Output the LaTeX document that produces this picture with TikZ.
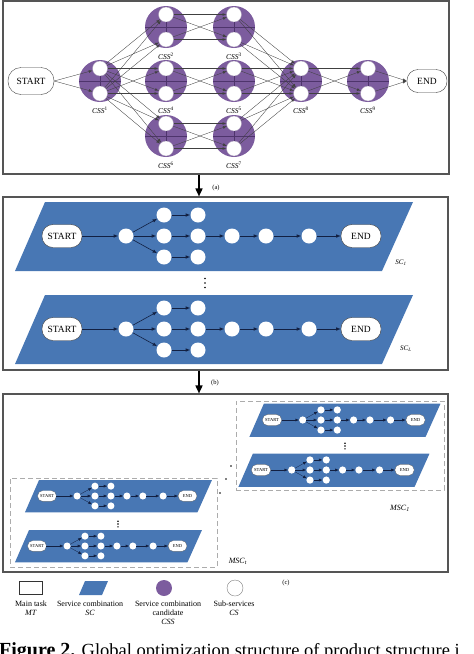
\documentclass[tikz,border=0pt]{standalone}
\usepackage{fontspec}
\setmainfont{Liberation Serif}
\usetikzlibrary{arrows,arrows.meta,positioning,calc}

\definecolor{cssviolet}{RGB}{124,92,158}
\definecolor{cssline}{RGB}{78,52,108}
\definecolor{scblue}{RGB}{72,119,180}
\definecolor{scline}{RGB}{18,32,66}
\definecolor{framegray}{RGB}{85,85,85}

\tikzset{
  panel/.style={draw=framegray, line width=1.1pt, inner sep=0pt},
  mscbox/.style={draw=gray!65, dash pattern=on 5pt off 3pt, line width=0.9pt, inner sep=0pt},
  task/.style={draw=black!75, fill=white, rounded corners=11pt, minimum width=40pt, minimum height=23pt, inner sep=0pt, line width=0.4pt, font=\fontsize{9.5}{11}\selectfont},
  cand/.style={circle, fill=cssviolet, minimum size=42pt, inner sep=0pt},
  sub/.style={circle, fill=white, draw=cssline!50, line width=0.3pt, minimum size=15pt, inner sep=0pt},
  scsub/.style={circle, fill=white, minimum size=15pt, inner sep=0pt},
  edge/.style={draw=black!75, line width=0.35pt, -latex},
  scedge/.style={draw=scline, -latex},
  small/.style={inner sep=0pt, font=\fontsize{7.5}{9}\selectfont},
  legendtext/.style={inner sep=0pt, align=center, font=\fontsize{8}{9}\selectfont},
  phase/.style={draw=black, line width=1.6pt, -{Triangle[length=8pt,width=7pt]}}
}

% one service combination: name, x, y of START, scale
\newcommand{\scrow}[4]{%
\begin{scope}[shift={(#2,#3)}, scale=#4, transform shape, task/.append style={rounded corners=#4*11pt, line width=#4*0.4pt}]
  \fill[scblue] (-17,-34) -- (351,-34) -- (320,35) -- (-47,35) -- cycle;
  \node[task] (#1-start) at (0,0) {START};
  \node[scsub] (#1-a) at (64,0) {};
  \foreach \r/\yy in {t/-21,m/0,b/21}{
    \node[scsub] (#1-b\r) at (102,\yy) {};
    \node[scsub] (#1-c\r) at (136,\yy) {};
  }
  \node[scsub] (#1-d) at (170,0) {};
  \node[scsub] (#1-e) at (204,0) {};
  \node[scsub] (#1-f) at (247,0) {};
  \node[task] (#1-end) at (299,0) {END};
  \begin{scope}[line width=#4*0.6pt]
    \draw[scedge] (#1-start) -- (#1-a);
    \foreach \r in {t,m,b}{
      \draw[scedge] (#1-a) -- (#1-b\r);
      \draw[scedge] (#1-b\r) -- (#1-c\r);
    }
    \draw[scedge] (#1-cm) -- (#1-d);
    \draw[scedge] (#1-d) -- (#1-e);
    \draw[scedge] (#1-e) -- (#1-f);
    \draw[scedge] (#1-f) -- (#1-end);
  \end{scope}
\end{scope}}

% vertical ellipsis drawn as dots: x, y, gap
\newcommand{\dotcol}[3]{%
  \foreach \k in {-1,0,1} \fill (#1,#2+\k*#3) circle (0.8);}

\begin{document}
\begin{tikzpicture}[x=1pt,y=-1pt]
\useasboundingbox (0,0) rectangle (474,654);
\clip (0,0) rectangle (474,654);

% frames
\node[panel, minimum width=446pt, minimum height=173pt] (panel-a) at (226,87.5) {};
\node[panel, minimum width=445pt, minimum height=173pt] (panel-b) at (225.5,283.5) {};
\node[panel, minimum width=445pt, minimum height=178pt] (panel-c) at (225.5,483) {};
\coordinate (arrx) at (199,0);
\draw[phase] (panel-a.south -| arrx) -- (panel-b.north -| arrx);
\draw[phase] (panel-b.south -| arrx) -- (panel-c.north -| arrx);
\node[small, font=\fontsize{6.5}{8}\selectfont] (lab-a) at (216,188) {(a)};
\node[small, font=\fontsize{6.5}{8}\selectfont] (lab-b) at (215,383) {(b)};

% (a) candidates
\node[task, minimum width=46pt, minimum height=27pt, rounded corners=13pt] (a-start) at (31,81) {START};
\node[task] (a-end) at (427,81) {END};
\foreach \i/\x/\y in {1/100/81,2/166/27,3/234/27,4/166/81,5/234/81,6/166/136,7/234/136,8/301/81,9/368/81}{
  \node[cand] (css\i) at (\x,\y) {};
  \node[sub] (css\i-t) at (\x,\y-12.5) {};
  \node[sub] (css\i-b) at (\x,\y+12.5) {};
  \draw[cssline, line width=0.5pt] (css\i-t) -- (css\i-b);
  \draw[cssline, line width=0.5pt] (css\i.west) -- (css\i.east);
  \node[small] (css\i-lab) at (\x,\y+29) {\textit{CSS}\textsuperscript{\i}};
}
\foreach \s/\t in {1/2,1/4,1/6,2/3,4/5,6/7,3/8,5/8,7/8,8/9}
  \foreach \p in {t,b}
    \foreach \q in {t,b}
      \draw[edge] (css\s-\p) -- (css\t-\q);
\foreach \p in {t,b}{
  \draw[edge] (a-start.east) -- (css1-\p);
  \draw[edge] (css9-\p) -- (a-end.west);
}

% (b) service combinations
\scrow{sc1}{62}{236}{1}
\scrow{scl}{62}{329}{1}
\node[small, font=\fontsize{7}{8}\selectfont] (sc1-lab) at (401,263) {\textit{SC}\textsubscript{\textit{1}}};
\node[small, font=\fontsize{7}{8}\selectfont] (scl-lab) at (406,349) {\textit{SC}\textsubscript{\textit{L}}};
\dotcol{205}{283}{4.5}

% (c) multiple service combinations
\node[mscbox, minimum width=208pt, minimum height=89pt] (msc1) at (340,445.5) {};
\node[mscbox, minimum width=207pt, minimum height=89pt] (msct) at (113.5,522.5) {};
\scrow{ms1a}{272}{420}{0.48}
\scrow{ms1b}{261}{470}{0.48}
\scrow{msta}{47}{496}{0.47}
\scrow{mstb}{37}{546}{0.47}
\dotcol{345}{446}{2.8}
\dotcol{118}{524}{2.8}
\foreach \x/\y in {231/466,226/479,220/493}
  \fill (\x,\y) circle (0.8);
\node[small, font=\fontsize{8}{9}\selectfont] (msc1-lab) at (400,508) {\textit{MSC}\textsubscript{\textit{1}}};
\node[small, font=\fontsize{8}{9}\selectfont] (msct-lab) at (238,561) {\textit{MSC}\textsubscript{\textit{t}}};
\node[small, font=\fontsize{6.5}{8}\selectfont] (lab-c) at (286,583) {(c)};

% legend
\draw[black!80, line width=0.5pt, fill=white] (19,581) rectangle (42,594);
\fill[scblue] (85,581) -- (108,581) -- (102,595) -- (79,595) -- cycle;
\fill[cssviolet] (164,588) circle (8);
\draw[gray, line width=0.4pt, fill=white] (235,588) circle (8);
\node[legendtext] (leg-mt) at (31,608) {Main task\\\textit{MT}};
\node[legendtext] (leg-sc) at (90,608) {Service combination\\\textit{SC}};
\node[legendtext] (leg-css) at (168,612.5) {Service combination\\candidate\\\textit{CSS}};
\node[legendtext] (leg-cs) at (234,608) {Sub-services\\\textit{CS}};

% caption
\node[anchor=base west, inner sep=0pt, font=\fontsize{18.5}{22}\selectfont] (caption) at (-1,656) {{\fontsize{20}{24}\selectfont\textbf{Figure 2.}} Global optimization structure of product structure i};
\end{tikzpicture}
\end{document}
